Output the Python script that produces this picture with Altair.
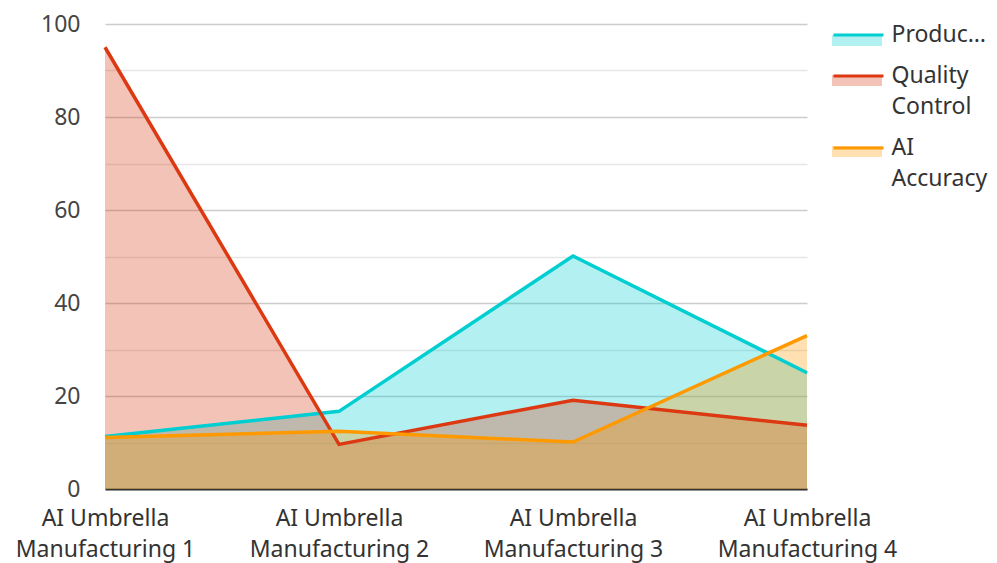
import altair as alt
import pandas as pd

categories = ["AI Umbrella Manufacturing 1", "AI Umbrella Manufacturing 2",
              "AI Umbrella Manufacturing 3", "AI Umbrella Manufacturing 4"]
series_names = ["Production", "Quality Control", "AI Accuracy"]
production = [11.3, 16.7, 50.1, 25.0]
quality_control = [95.0, 9.6, 19.1, 13.7]
ai_accuracy = [11.1, 12.4, 10.1, 33.0]
colors = ["#00CED1", "#DC3912", "#FF9900"]
y_ticks = list(range(0, 101, 10))

rows = []
for name, vals in zip(series_names, [production, quality_control, ai_accuracy]):
    for c, v in zip(categories, vals):
        rows.append({"category": c, "series": name, "value": v})
df = pd.DataFrame(rows)

FONT = "Noto Sans"
FS = 23
LFS = 23

x_axis = alt.Axis(
    title=None, ticks=False, tickSize=0, grid=False,
    domain=True, domainColor="#333333", domainWidth=2,
    labelAngle=0, labelPadding=18, labelFontSize=FS, labelFont=FONT,
    labelColor="#333333", labelLineHeight=31, labelBaseline="top",
    labelExpr="[substring(datum.label, 0, 11), substring(datum.label, 12)]",
)
y_axis = alt.Axis(
    title=None, ticks=False, tickSize=0, domain=False, values=y_ticks,
    labelExpr="datum.value % 20 == 0 ? datum.label : ''",
    labelPadding=25, labelFontSize=FS, labelFont=FONT, labelColor="#444444",
    gridColor={"condition": {"test": "datum.value % 20 == 0", "value": "#cccccc"},
               "value": "#e6e6e6"},
    gridWidth=1.5,
)

x_enc = alt.X("category:N", sort=categories,
              scale=alt.Scale(type="point", padding=0), axis=x_axis)
y_enc = alt.Y("value:Q", stack=None,
              scale=alt.Scale(domain=[0, 100], nice=False), axis=y_axis)

legend_common = dict(
    title=None, orient="none", legendX=739.5, legendY=-3,
    symbolSize=625, labelOffset=19, labelFontSize=LFS, labelFont=FONT,
    labelLimit=100, padding=0, rowPadding=15,
)

area = alt.Chart(df).mark_area(opacity=0.3).encode(
    x=x_enc, y=y_enc,
    color=alt.Color("series:N", sort=series_names,
                    scale=alt.Scale(domain=series_names, range=colors),
                    legend=alt.Legend(
                        symbolType="M-2,0.12H2V1H-2Z",
                        symbolOpacity=0.3, symbolStrokeWidth=0,
                        labelColor="#333333", labelOpacity=0,
                        labelExpr="length(split(datum.label, ' ')) > 1 ? [' ', ' '] : ' '",
                        **legend_common,
                    )),
)

line = alt.Chart(df).mark_line(strokeWidth=3.5).encode(
    x=x_enc, y=y_enc,
    color=alt.Color("series:N", sort=series_names,
                    scale=alt.Scale(domain=series_names, range=colors),
                    legend=alt.Legend(
                        symbolType="M-2,0H2", symbolStrokeWidth=3,
                        labelColor="#333333",
                        labelExpr="split(datum.label, ' ')",
                        **legend_common,
                    )),
)

chart = alt.layer(area, line).resolve_scale(color="independent").properties(
    width=702, height=465,
    autosize=alt.AutoSizeParams(type="none"),
    padding={"left": 97, "top": 16, "right": 182, "bottom": 74},
).configure(style={"guide-label": {"lineHeight": 31}}).configure_view(stroke=None)

chart.save("out.html", embed_options={"renderer": "svg", "actions": False})
